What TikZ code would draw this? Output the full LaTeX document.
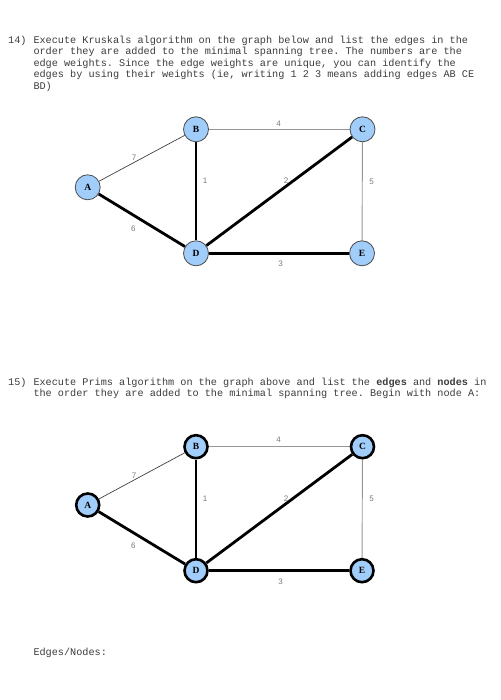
\documentclass[tikz,border=0pt]{standalone}
\usepackage{fontspec}
\setmonofont{Liberation Mono}
\newfontfamily\nodefont{Liberation Serif}
\newfontfamily\weightfont{Liberation Sans}
\usetikzlibrary{positioning, backgrounds}
\definecolor{colNode}{RGB}{160,205,250}
\definecolor{colText}{RGB}{60,60,60}
\definecolor{colWeight}{RGB}{120,120,120}
\definecolor{colLight}{RGB}{150,150,150}
\tikzset{
    vertex/.style={circle, draw=black!70, fill=colNode, line width=0.8pt,
        minimum size=25pt, inner sep=0pt, font=\nodefont\bfseries\fontsize{9.5}{10}\selectfont},
    boldvertex/.style={vertex, draw=black, line width=2.6pt, minimum size=23pt},
    tree/.style={line width=2.8pt, black},
    lightedge/.style={line width=0.9pt, colLight},
    darkedge/.style={line width=0.7pt, black!75},
    weight/.style={font=\weightfont\fontsize{8}{8}\selectfont, text=colWeight, inner sep=0pt},
    question/.style={anchor=north west, align=left, inner sep=0pt, text=colText,
        font=\ttfamily\fontsize{10.2}{11.6}\selectfont}
}

\begin{document}
\begin{tikzpicture}[x=1pt, y=-1pt]
    \useasboundingbox (0,0) rectangle (500,700);

    % question 14
    \node[question] (num14) at (8,35.5) {14)};
    \node[question] (text14) at (33.3,35.5) {Execute Kruskals algorithm on the graph below and list the edges in the\\
        order they are added to the minimal spanning tree. The numbers are the\\
        edge weights. Since the edge weights are unique, you can identify the\\
        edges by using their weights (ie, writing 1 2 3 means adding edges AB CE\\
        BD)};

    % first graph
    \node[vertex] (a1) at (87.7,187.3) {A};
    \node[vertex] (b1) at (196,129.3) {B};
    \node[vertex] (c1) at (362.5,129.3) {C};
    \node[vertex] (d1) at (196,253.3) {D};
    \node[vertex] (e1) at (362,253.3) {E};
    \begin{scope}[on background layer]
        \draw[darkedge] (a1) -- (b1);
        \draw[lightedge] (b1) -- (c1);
        \draw[lightedge] (c1) -- (e1);
        \draw[tree] (a1) -- (d1);
        \draw[tree] (b1) -- (d1);
        \draw[tree] (d1) -- (c1);
        \draw[tree] (d1) -- (e1);
    \end{scope}
    \node[weight] (w7a) at (134,157.3) {7};
    \node[weight] (w4a) at (278.7,123.3) {4};
    \node[weight] (w1a) at (205,181) {1};
    \node[weight] (w2a) at (286,181) {2};
    \node[weight] (w5a) at (371.7,181.7) {5};
    \node[weight] (w6a) at (133.3,228.3) {6};
    \node[weight] (w3a) at (280.7,264) {3};

    % question 15
    \node[question] (num15) at (8,377.5) {15)};
    \node[question] (text15) at (33.3,377.5) {Execute Prims algorithm on the graph above and list the \textbf{edges} and \textbf{nodes} in\\
        the order they are added to the minimal spanning tree. Begin with node A:};

    % second graph
    \node[boldvertex] (a2) at (87.7,505) {A};
    \node[boldvertex] (b2) at (196,446.7) {B};
    \node[boldvertex] (c2) at (362.5,446.7) {C};
    \node[boldvertex] (d2) at (196,570.7) {D};
    \node[boldvertex] (e2) at (362,570.7) {E};
    \begin{scope}[on background layer]
        \draw[darkedge] (a2) -- (b2);
        \draw[lightedge] (b2) -- (c2);
        \draw[lightedge] (c2) -- (e2);
        \draw[tree] (a2) -- (d2);
        \draw[tree] (b2) -- (d2);
        \draw[tree] (d2) -- (c2);
        \draw[tree] (d2) -- (e2);
    \end{scope}
    \node[weight] (w7b) at (134,475.7) {7};
    \node[weight] (w4b) at (278.7,440) {4};
    \node[weight] (w1b) at (205,499) {1};
    \node[weight] (w2b) at (286,499) {2};
    \node[weight] (w5b) at (371.7,499) {5};
    \node[weight] (w6b) at (133.3,546) {6};
    \node[weight] (w3b) at (280.7,581.3) {3};

    \node[question] (answer) at (33.3,647.5) {Edges/Nodes:};
\end{tikzpicture}
\end{document}
